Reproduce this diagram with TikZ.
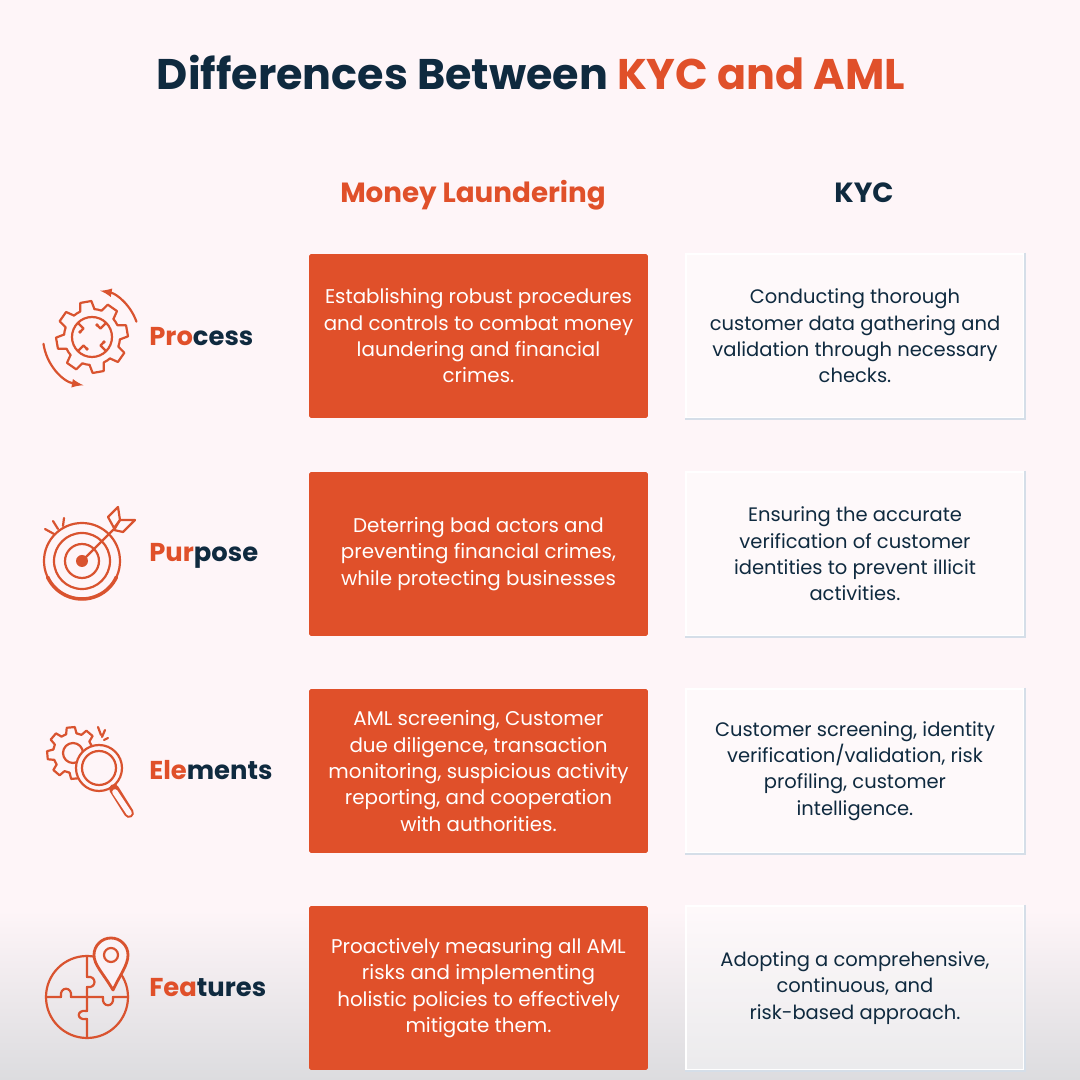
\documentclass[tikz,border=0pt]{standalone}
\usepackage{fontspec}
\setmainfont{Poppins}
\usetikzlibrary{calc, positioning}
\definecolor{bgpink}{HTML}{FEF5F8}
\definecolor{bggrey}{HTML}{DCDCDF}
\definecolor{orangebox}{HTML}{E0502A}
\definecolor{navyink}{HTML}{0F2A3F}
\definecolor{iconred}{HTML}{D9532F}
\definecolor{edgeblue}{HTML}{D5DEE8}
\tikzset{
  amlbox/.style={fill=orangebox, rounded corners=1pt, text=white, minimum width=6.78cm, minimum height=3.28cm, align=center, inner sep=0pt, font=\fontsize{11.3}{15}\selectfont},
  kycbox/.style={draw=white, line width=1.5pt, fill=white, fill opacity=.4, text opacity=1, text=navyink, minimum width=6.76cm, minimum height=3.28cm, align=center, inner sep=0pt, font=\fontsize{11.1}{15}\selectfont},
  rowlabel/.style={anchor=base west, inner sep=0pt, font=\fontsize{14.7}{17}\bfseries\selectfont},
  headlabel/.style={anchor=base, inner sep=0pt, font=\fontsize{15.8}{18}\bfseries\selectfont},
  iconline/.style={draw=iconred, line width=1.25pt, line join=round, line cap=round},
  boxedge/.style={draw=edgeblue, line width=1.2pt}
}
\newcommand{\drawgear}[3]{
  \foreach \a in {0,45,...,315} {
    \draw [iconline] (\a+#3-15:#2) -- (\a+#3-9:#1) -- (\a+#3+9:#1) -- (\a+#3+15:#2) arc [start angle=\a+#3+15, end angle=\a+#3+30, radius=#2];
  }
}
\begin{document}
\begin{tikzpicture}[x=.02cm, y=.02cm, >=latex]
  \useasboundingbox (0,0) rectangle (1080,1080);
  \fill [bgpink] (0,0) rectangle (1080,1080);
  \shade [top color=bgpink, bottom color=bggrey] (0,0) rectangle (1080,170);

  \node (title) at (531,990) [anchor=base, inner sep=0pt, font=\fontsize{24.4}{28}\bfseries\selectfont] {\textcolor{navyink}{Differences Between} \textcolor{orangebox}{KYC and AML}};
  \node (headaml) at (473,877) [headlabel, text=orangebox] {Money Laundering};
  \node (headkyc) at (864,877) [headlabel, text=navyink] {KYC};

  \node (aml1) at (478.5,744) [amlbox] {Establishing robust procedures\\and controls to combat money\\laundering and financial\\crimes.};
  \node (aml2) at (478.5,526) [amlbox] {Deterring bad actors and\\preventing financial crimes,\\while protecting businesses};
  \node (aml3) at (478.5,309) [amlbox] {AML screening, Customer\\due diligence, transaction\\monitoring, suspicious activity\\reporting, and cooperation\\with authorities.};
  \node (aml4) at (478.5,92) [amlbox] {Proactively measuring all AML\\risks and implementing\\holistic policies to effectively\\mitigate them.};

  \node (kyc1) at (855,744) [kycbox] {Conducting thorough\\customer data gathering and\\validation through necessary\\checks.};
  \node (kyc2) at (855,526) [kycbox] {Ensuring the accurate\\verification of customer\\identities to prevent illicit\\activities.};
  \node (kyc3) at (855,309) [kycbox] {Customer screening, identity\\verification/validation, risk\\profiling, customer\\intelligence.};
  \node (kyc4) at (855,92) [kycbox] {Adopting a comprehensive,\\continuous, and\\risk-based approach.};
  \foreach \k in {kyc1,kyc2,kyc3,kyc4} {
    \draw [boxedge] (\k.north east) -- (\k.south east) -- (\k.south west);
  }

  \node (process) at (149,734) [rowlabel] {\textcolor{orangebox}{Pro}\textcolor{navyink}{cess}};
  \node (purpose) at (149,518) [rowlabel] {\textcolor{orangebox}{Pur}\textcolor{navyink}{pose}};
  \node (elements) at (149,300) [rowlabel] {\textcolor{orangebox}{Ele}\textcolor{navyink}{ments}};
  \node (features) at (149,83) [rowlabel] {\textcolor{orangebox}{Fea}\textcolor{navyink}{tures}};

  \begin{scope}[shift={(92,743)}]
    \drawgear{36}{28}{10}
    \draw [iconline] (0,0) circle [radius=20];
    \foreach \a in {45,135,225,315} {
      \draw [iconline] (\a:20) -- (\a:12) -- ++(\a+90:5);
      \fill [iconred] (\a:12) ++(\a+90:5) circle [radius=1.8];
    }
    \draw [iconline, ->] (19:47) arc [start angle=19, end angle=80, radius=47];
    \draw [iconline, ->] (188:49) arc [start angle=188, end angle=260, radius=49];
  \end{scope}

  \begin{scope}[shift={(82,519)}]
    \draw [iconline] (0,0) circle [radius=38];
    \draw [iconline, line width=2pt] (205:38) arc [start angle=205, end angle=335, radius=38];
    \draw [iconline] (0,0) circle [radius=28];
    \draw [iconline] (0,0) circle [radius=17];
    \fill [iconred] (0,0) circle [radius=6];
    \draw [iconline] (0,0) -- (32,32);
    \draw [iconline] (32,33) -- (26,44) -- (36,54) -- (38,41) -- cycle;
    \draw [iconline] (32,31) -- (41,29) -- (53,41) -- (38,41) -- cycle;
    \draw [iconline] (-37,32) -- (-28,27);
    \draw [iconline] (-29,40) -- (-24,32);
    \draw [iconline] (-18,43) -- (-19,35);
  \end{scope}

  \begin{scope}[shift={(73,327)}]
    \drawgear{26}{20}{5}
    \draw [iconline] (0,0) circle [radius=10];
  \end{scope}
  \begin{scope}[shift={(99,312)}]
    \draw [iconline, fill=bgpink] (0,0) circle [radius=23];
    \draw [iconline] (0,0) circle [radius=17];
    \fill [iconred] (12,-21) -- (18,-15) -- (16,-23) -- cycle;
    \draw [iconred, line width=5.6pt, line cap=round] (15,-21) -- (30,-45);
    \draw [bgpink, line width=3.2pt, line cap=round] (16,-24) -- (30,-45);
    \draw [iconline] (-1,41) -- (2,33);
    \draw [iconline] (6,38) -- (3,31);
    \draw [iconline] (9,30) -- (5,28);
  \end{scope}

  \begin{scope}[shift={(87,83)}]
    \draw [iconline] (0,0) circle [radius=41];
    \draw [iconline] (0,41) -- (0,20) .. controls (10,22) and (10,8) .. (0,10) -- (0,-14) .. controls (-11,-12) and (-11,-24) .. (0,-22) -- (0,-41);
    \draw [iconline] (-41,0) -- (-26,0) .. controls (-28,11) and (-14,11) .. (-16,0) -- (16,0) .. controls (14,-11) and (28,-11) .. (26,0) -- (41,0);
    \draw [iconline, line width=1.6pt, fill=bgpink!88!bggrey] (26,7) .. controls (16,24) and (7,32) .. (7,42) arc [start angle=180, end angle=0, radius=17] .. controls (41,32) and (33,22) .. (26,7) -- cycle;
    \draw [iconline] (24,42) circle [radius=7];
  \end{scope}
\end{tikzpicture}
\end{document}
